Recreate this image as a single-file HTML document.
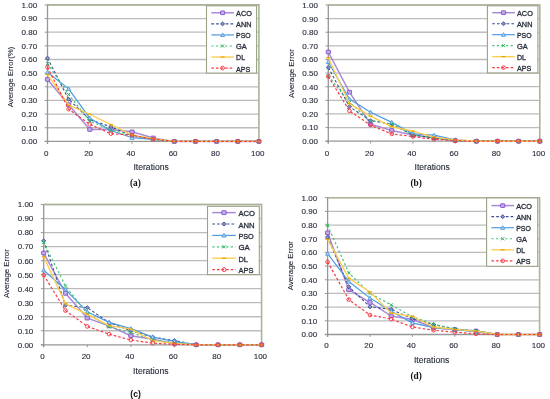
<!DOCTYPE html>
<html><head><meta charset="utf-8"><title>Average Error vs Iterations</title>
<style>
html,body{margin:0;padding:0;background:#fff;}
body{width:550px;height:399px;overflow:hidden;}
svg{display:block;}
.t{font-family:"Liberation Sans",sans-serif;font-size:8.0px;fill:#262c3a;}
.t,.it,.yl{stroke:#262c3a;stroke-width:0.12px;paint-order:stroke;}
.lg{stroke:#222a33;stroke-width:0.3px;paint-order:stroke;}
.it{font-family:"Liberation Sans",sans-serif;font-size:8.5px;fill:#262c3a;}
.lg{font-family:"Liberation Sans",sans-serif;font-size:7.65px;fill:#262c3a;}
.yl{font-family:"Liberation Sans",sans-serif;font-size:7.9px;fill:#262c3a;}
.cap{font-family:"Liberation Serif",serif;font-size:9.3px;font-weight:bold;fill:#111;}
.cap2{font-family:"Liberation Sans",sans-serif;font-size:8.6px;font-weight:bold;fill:#111;}
</style></head>
<body>
<svg width="550" height="399" viewBox="0 0 550 399">
<rect width="550" height="399" fill="#fff"/>
<path d="M47.5 127.75H258.9" stroke="#bcbcbc" stroke-width="1.3"/>
<path d="M47.5 114.1H258.9" stroke="#bcbcbc" stroke-width="1.3"/>
<path d="M47.5 100.45H258.9" stroke="#bcbcbc" stroke-width="1.3"/>
<path d="M47.5 86.8H258.9" stroke="#bcbcbc" stroke-width="1.3"/>
<path d="M47.5 73.15H258.9" stroke="#bcbcbc" stroke-width="1.3"/>
<path d="M47.5 59.5H258.9" stroke="#bcbcbc" stroke-width="1.3"/>
<path d="M47.5 45.85H258.9" stroke="#bcbcbc" stroke-width="1.3"/>
<path d="M47.5 32.2H258.9" stroke="#bcbcbc" stroke-width="1.3"/>
<path d="M47.5 18.55H258.9" stroke="#bcbcbc" stroke-width="1.3"/>
<path d="M47.5 4.9H258.9" stroke="#bcbcbc" stroke-width="1.3"/>
<path d="M47.5 4.9H258.9V141.4" stroke="#a9b499" stroke-width="1.6" fill="none"/>
<path d="M47.5 4.9V143.8" stroke="#969696" stroke-width="1.3"/>
<path d="M44.7 141.4H258.9" stroke="#969696" stroke-width="1.3"/>
<path d="M44.7 141.4H47.5" stroke="#969696" stroke-width="1"/>
<path d="M44.7 127.75H47.5" stroke="#969696" stroke-width="1"/>
<path d="M44.7 114.1H47.5" stroke="#969696" stroke-width="1"/>
<path d="M44.7 100.45H47.5" stroke="#969696" stroke-width="1"/>
<path d="M44.7 86.8H47.5" stroke="#969696" stroke-width="1"/>
<path d="M44.7 73.15H47.5" stroke="#969696" stroke-width="1"/>
<path d="M44.7 59.5H47.5" stroke="#969696" stroke-width="1"/>
<path d="M44.7 45.85H47.5" stroke="#969696" stroke-width="1"/>
<path d="M44.7 32.2H47.5" stroke="#969696" stroke-width="1"/>
<path d="M44.7 18.55H47.5" stroke="#969696" stroke-width="1"/>
<path d="M44.7 4.9H47.5" stroke="#969696" stroke-width="1"/>
<path d="M47.5 141.4V143.8" stroke="#969696" stroke-width="1"/>
<path d="M89.78 141.4V143.8" stroke="#969696" stroke-width="1"/>
<path d="M132.06 141.4V143.8" stroke="#969696" stroke-width="1"/>
<path d="M174.34 141.4V143.8" stroke="#969696" stroke-width="1"/>
<path d="M216.62 141.4V143.8" stroke="#969696" stroke-width="1"/>
<path d="M258.9 141.4V143.8" stroke="#969696" stroke-width="1"/>
<text x="37.1" y="144.3" text-anchor="end" class="t">0.00</text>
<text x="37.1" y="130.65" text-anchor="end" class="t">0.10</text>
<text x="37.1" y="117" text-anchor="end" class="t">0.20</text>
<text x="37.1" y="103.35" text-anchor="end" class="t">0.30</text>
<text x="37.1" y="89.7" text-anchor="end" class="t">0.40</text>
<text x="37.1" y="76.05" text-anchor="end" class="t">0.50</text>
<text x="37.1" y="62.4" text-anchor="end" class="t">0.60</text>
<text x="37.1" y="48.75" text-anchor="end" class="t">0.70</text>
<text x="37.1" y="35.1" text-anchor="end" class="t">0.80</text>
<text x="37.1" y="21.45" text-anchor="end" class="t">0.90</text>
<text x="37.1" y="7.8" text-anchor="end" class="t">1.00</text>
<text x="46.3" y="156.1" text-anchor="middle" class="t">0</text>
<text x="88.58" y="156.1" text-anchor="middle" class="t">20</text>
<text x="130.86" y="156.1" text-anchor="middle" class="t">40</text>
<text x="173.14" y="156.1" text-anchor="middle" class="t">60</text>
<text x="215.42" y="156.1" text-anchor="middle" class="t">80</text>
<text x="257.7" y="156.1" text-anchor="middle" class="t">100</text>
<text x="151.15" y="169.6" text-anchor="middle" textLength="35.4" lengthAdjust="spacingAndGlyphs" class="it">Iterations</text>
<text transform="translate(12.9 77) rotate(-90)" x="0" y="0" text-anchor="middle" textLength="60.6" lengthAdjust="spacingAndGlyphs" class="yl">Average Error(%)</text>
<text x="135.4" y="185.8" text-anchor="middle" class="cap">(a)</text>
<polyline points="47.5,79.43 68.64,104.68 89.78,129.52 110.92,129.39 132.06,131.84 153.2,137.99 174.34,141.4 195.48,141.4 216.62,141.4 237.76,141.4 258.9,141.4" stroke="#a98ad9" stroke-width="1.5" fill="none"/>
<rect x="45.4" y="77.58" width="4.2" height="3.7" rx="0.5" fill="#c4aaea" stroke="#8150c6" stroke-width="0.9"/>
<rect x="66.54" y="102.83" width="4.2" height="3.7" rx="0.5" fill="#c4aaea" stroke="#8150c6" stroke-width="0.9"/>
<rect x="87.68" y="127.67" width="4.2" height="3.7" rx="0.5" fill="#c4aaea" stroke="#8150c6" stroke-width="0.9"/>
<rect x="108.82" y="127.54" width="4.2" height="3.7" rx="0.5" fill="#c4aaea" stroke="#8150c6" stroke-width="0.9"/>
<rect x="129.96" y="130" width="4.2" height="3.7" rx="0.5" fill="#c4aaea" stroke="#8150c6" stroke-width="0.9"/>
<rect x="151.1" y="136.14" width="4.2" height="3.7" rx="0.5" fill="#c4aaea" stroke="#8150c6" stroke-width="0.9"/>
<rect x="172.24" y="139.55" width="4.2" height="3.7" rx="0.5" fill="#c4aaea" stroke="#8150c6" stroke-width="0.9"/>
<rect x="193.38" y="139.55" width="4.2" height="3.7" rx="0.5" fill="#c4aaea" stroke="#8150c6" stroke-width="0.9"/>
<rect x="214.52" y="139.55" width="4.2" height="3.7" rx="0.5" fill="#c4aaea" stroke="#8150c6" stroke-width="0.9"/>
<rect x="235.66" y="139.55" width="4.2" height="3.7" rx="0.5" fill="#c4aaea" stroke="#8150c6" stroke-width="0.9"/>
<rect x="256.8" y="139.55" width="4.2" height="3.7" rx="0.5" fill="#c4aaea" stroke="#8150c6" stroke-width="0.9"/>
<polyline points="47.5,58.14 68.64,99.22 89.78,119.56 110.92,126.79 132.06,135.94 153.2,139.35 174.34,141.4 195.48,141.4 216.62,141.4 237.76,141.4 258.9,141.4" stroke="#3d4d92" stroke-width="1.1" stroke-dasharray="2.7 2.1" fill="none"/>
<path d="M47.5 56.24L49.6 58.14L47.5 60.04L45.4 58.14Z" fill="#8a96c4" stroke="#3d4d92" stroke-width="0.9"/>
<path d="M68.64 97.32L70.74 99.22L68.64 101.12L66.54 99.22Z" fill="#8a96c4" stroke="#3d4d92" stroke-width="0.9"/>
<path d="M89.78 117.66L91.88 119.56L89.78 121.46L87.68 119.56Z" fill="#8a96c4" stroke="#3d4d92" stroke-width="0.9"/>
<path d="M110.92 124.89L113.02 126.79L110.92 128.69L108.82 126.79Z" fill="#8a96c4" stroke="#3d4d92" stroke-width="0.9"/>
<path d="M132.06 134.04L134.16 135.94L132.06 137.84L129.96 135.94Z" fill="#8a96c4" stroke="#3d4d92" stroke-width="0.9"/>
<path d="M153.2 137.45L155.3 139.35L153.2 141.25L151.1 139.35Z" fill="#8a96c4" stroke="#3d4d92" stroke-width="0.9"/>
<path d="M174.34 139.5L176.44 141.4L174.34 143.3L172.24 141.4Z" fill="#8a96c4" stroke="#3d4d92" stroke-width="0.9"/>
<path d="M195.48 139.5L197.58 141.4L195.48 143.3L193.38 141.4Z" fill="#8a96c4" stroke="#3d4d92" stroke-width="0.9"/>
<path d="M216.62 139.5L218.72 141.4L216.62 143.3L214.52 141.4Z" fill="#8a96c4" stroke="#3d4d92" stroke-width="0.9"/>
<path d="M237.76 139.5L239.86 141.4L237.76 143.3L235.66 141.4Z" fill="#8a96c4" stroke="#3d4d92" stroke-width="0.9"/>
<path d="M258.9 139.5L261 141.4L258.9 143.3L256.8 141.4Z" fill="#8a96c4" stroke="#3d4d92" stroke-width="0.9"/>
<polyline points="47.5,72.19 68.64,88.85 89.78,118.2 110.92,130.48 132.06,137.71 153.2,139.35 174.34,141.4 195.48,141.4 216.62,141.4 237.76,141.4 258.9,141.4" stroke="#4f9ae0" stroke-width="1.2" fill="none"/>
<path d="M47.5 70.19L49.5 73.79L45.5 73.79Z" fill="#b8d6f2" stroke="#4f9ae0" stroke-width="0.9"/>
<path d="M68.64 86.85L70.64 90.45L66.64 90.45Z" fill="#b8d6f2" stroke="#4f9ae0" stroke-width="0.9"/>
<path d="M89.78 116.2L91.78 119.8L87.78 119.8Z" fill="#b8d6f2" stroke="#4f9ae0" stroke-width="0.9"/>
<path d="M110.92 128.48L112.92 132.08L108.92 132.08Z" fill="#b8d6f2" stroke="#4f9ae0" stroke-width="0.9"/>
<path d="M132.06 135.71L134.06 139.31L130.06 139.31Z" fill="#b8d6f2" stroke="#4f9ae0" stroke-width="0.9"/>
<path d="M153.2 137.35L155.2 140.95L151.2 140.95Z" fill="#b8d6f2" stroke="#4f9ae0" stroke-width="0.9"/>
<path d="M174.34 139.4L176.34 143L172.34 143Z" fill="#b8d6f2" stroke="#4f9ae0" stroke-width="0.9"/>
<path d="M195.48 139.4L197.48 143L193.48 143Z" fill="#b8d6f2" stroke="#4f9ae0" stroke-width="0.9"/>
<path d="M216.62 139.4L218.62 143L214.62 143Z" fill="#b8d6f2" stroke="#4f9ae0" stroke-width="0.9"/>
<path d="M237.76 139.4L239.76 143L235.76 143Z" fill="#b8d6f2" stroke="#4f9ae0" stroke-width="0.9"/>
<path d="M258.9 139.4L260.9 143L256.9 143Z" fill="#b8d6f2" stroke="#4f9ae0" stroke-width="0.9"/>
<polyline points="47.5,63.6 68.64,94.44 89.78,120.93 110.92,130.07 132.06,135.12 153.2,139.35 174.34,141.4 195.48,141.4 216.62,141.4 237.76,141.4 258.9,141.4" stroke="#45c27a" stroke-width="1.2" stroke-dasharray="2.2 2.4" fill="none"/>
<path d="M45.9 62L49.1 65.2M45.9 65.2L49.1 62" stroke="#20b058" stroke-width="0.9" fill="none"/>
<path d="M67.04 92.84L70.24 96.04M67.04 96.04L70.24 92.84" stroke="#20b058" stroke-width="0.9" fill="none"/>
<path d="M88.18 119.33L91.38 122.53M88.18 122.53L91.38 119.33" stroke="#20b058" stroke-width="0.9" fill="none"/>
<path d="M109.32 128.47L112.52 131.67M109.32 131.67L112.52 128.47" stroke="#20b058" stroke-width="0.9" fill="none"/>
<path d="M130.46 133.52L133.66 136.72M130.46 136.72L133.66 133.52" stroke="#20b058" stroke-width="0.9" fill="none"/>
<path d="M151.6 137.75L154.8 140.95M151.6 140.95L154.8 137.75" stroke="#20b058" stroke-width="0.9" fill="none"/>
<path d="M172.74 139.8L175.94 143M172.74 143L175.94 139.8" stroke="#20b058" stroke-width="0.9" fill="none"/>
<path d="M193.88 139.8L197.08 143M193.88 143L197.08 139.8" stroke="#20b058" stroke-width="0.9" fill="none"/>
<path d="M215.02 139.8L218.22 143M215.02 143L218.22 139.8" stroke="#20b058" stroke-width="0.9" fill="none"/>
<path d="M236.16 139.8L239.36 143M236.16 143L239.36 139.8" stroke="#20b058" stroke-width="0.9" fill="none"/>
<path d="M257.3 139.8L260.5 143M257.3 143L260.5 139.8" stroke="#20b058" stroke-width="0.9" fill="none"/>
<polyline points="47.5,74.52 68.64,105.23 89.78,114.24 110.92,124.61 132.06,135.12 153.2,138.67 174.34,141.4 195.48,141.4 216.62,141.4 237.76,141.4 258.9,141.4" stroke="#fdcc4c" stroke-width="1.35" fill="none"/>
<path d="M45.5 74.52L49.5 74.52" stroke="#e8a800" stroke-width="1.2" fill="none"/>
<path d="M66.64 105.23L70.64 105.23" stroke="#e8a800" stroke-width="1.2" fill="none"/>
<path d="M87.78 114.24L91.78 114.24" stroke="#e8a800" stroke-width="1.2" fill="none"/>
<path d="M108.92 124.61L112.92 124.61" stroke="#e8a800" stroke-width="1.2" fill="none"/>
<path d="M130.06 135.12L134.06 135.12" stroke="#e8a800" stroke-width="1.2" fill="none"/>
<path d="M151.2 138.67L155.2 138.67" stroke="#e8a800" stroke-width="1.2" fill="none"/>
<path d="M172.34 141.4L176.34 141.4" stroke="#e8a800" stroke-width="1.2" fill="none"/>
<path d="M193.48 141.4L197.48 141.4" stroke="#e8a800" stroke-width="1.2" fill="none"/>
<path d="M214.62 141.4L218.62 141.4" stroke="#e8a800" stroke-width="1.2" fill="none"/>
<path d="M235.76 141.4L239.76 141.4" stroke="#e8a800" stroke-width="1.2" fill="none"/>
<path d="M256.9 141.4L260.9 141.4" stroke="#e8a800" stroke-width="1.2" fill="none"/>
<polyline points="47.5,67.14 68.64,109.19 89.78,124.34 110.92,133.62 132.06,135.12 153.2,139.35 174.34,141.4 195.48,141.4 216.62,141.4 237.76,141.4 258.9,141.4" stroke="#f73a44" stroke-width="1.2" stroke-dasharray="2.6 2.0" fill="none"/>
<circle cx="47.5" cy="67.14" r="1.85" fill="none" stroke="#f73a44" stroke-width="0.95"/>
<circle cx="68.64" cy="109.19" r="1.85" fill="none" stroke="#f73a44" stroke-width="0.95"/>
<circle cx="89.78" cy="124.34" r="1.85" fill="none" stroke="#f73a44" stroke-width="0.95"/>
<circle cx="110.92" cy="133.62" r="1.85" fill="none" stroke="#f73a44" stroke-width="0.95"/>
<circle cx="132.06" cy="135.12" r="1.85" fill="none" stroke="#f73a44" stroke-width="0.95"/>
<circle cx="153.2" cy="139.35" r="1.85" fill="none" stroke="#f73a44" stroke-width="0.95"/>
<circle cx="174.34" cy="141.4" r="1.85" fill="none" stroke="#f73a44" stroke-width="0.95"/>
<circle cx="195.48" cy="141.4" r="1.85" fill="none" stroke="#f73a44" stroke-width="0.95"/>
<circle cx="216.62" cy="141.4" r="1.85" fill="none" stroke="#f73a44" stroke-width="0.95"/>
<circle cx="237.76" cy="141.4" r="1.85" fill="none" stroke="#f73a44" stroke-width="0.95"/>
<circle cx="258.9" cy="141.4" r="1.85" fill="none" stroke="#f73a44" stroke-width="0.95"/>
<rect x="206.5" y="5.8" width="50.1" height="67.3" fill="#fff" stroke="#9aa386" stroke-width="1.1"/>
<path d="M211.3 12.8H233.9" stroke="#a98ad9" stroke-width="1.5" fill="none"/>
<rect x="220.5" y="10.95" width="4.2" height="3.7" rx="0.5" fill="#c4aaea" stroke="#8150c6" stroke-width="0.9"/>
<text x="236.1" y="16.25" textLength="15.8" lengthAdjust="spacingAndGlyphs" class="lg">ACO</text>
<path d="M211.3 23.86H233.9" stroke="#3d4d92" stroke-width="1.1" stroke-dasharray="2.7 2.1" fill="none"/>
<path d="M222.6 21.96L224.7 23.86L222.6 25.76L220.5 23.86Z" fill="#8a96c4" stroke="#3d4d92" stroke-width="0.9"/>
<text x="236.1" y="27.31" textLength="15.4" lengthAdjust="spacingAndGlyphs" class="lg">ANN</text>
<path d="M211.3 34.92H233.9" stroke="#4f9ae0" stroke-width="1.2" fill="none"/>
<path d="M222.6 32.92L224.6 36.52L220.6 36.52Z" fill="#b8d6f2" stroke="#4f9ae0" stroke-width="0.9"/>
<text x="236.1" y="38.37" textLength="14.6" lengthAdjust="spacingAndGlyphs" class="lg">PSO</text>
<path d="M211.3 45.98H233.9" stroke="#45c27a" stroke-width="1.2" stroke-dasharray="2.2 2.4" fill="none"/>
<path d="M221 44.38L224.2 47.58M221 47.58L224.2 44.38" stroke="#20b058" stroke-width="0.9" fill="none"/>
<text x="236.1" y="49.43" textLength="10.7" lengthAdjust="spacingAndGlyphs" class="lg">GA</text>
<path d="M211.3 57.04H233.9" stroke="#fdcc4c" stroke-width="1.35" fill="none"/>
<path d="M220.6 57.04L224.6 57.04" stroke="#e8a800" stroke-width="1.2" fill="none"/>
<text x="236.1" y="60.49" textLength="9" lengthAdjust="spacingAndGlyphs" class="lg">DL</text>
<path d="M211.3 68.1H233.9" stroke="#f73a44" stroke-width="1.2" stroke-dasharray="2.6 2.0" fill="none"/>
<circle cx="222.6" cy="68.1" r="1.85" fill="none" stroke="#f73a44" stroke-width="0.95"/>
<text x="236.1" y="71.55" textLength="14.3" lengthAdjust="spacingAndGlyphs" class="lg">APS</text>
<path d="M328.3 127.58H539.8" stroke="#bcbcbc" stroke-width="1.3"/>
<path d="M328.3 113.96H539.8" stroke="#bcbcbc" stroke-width="1.3"/>
<path d="M328.3 100.34H539.8" stroke="#bcbcbc" stroke-width="1.3"/>
<path d="M328.3 86.72H539.8" stroke="#bcbcbc" stroke-width="1.3"/>
<path d="M328.3 73.1H539.8" stroke="#bcbcbc" stroke-width="1.3"/>
<path d="M328.3 59.48H539.8" stroke="#bcbcbc" stroke-width="1.3"/>
<path d="M328.3 45.86H539.8" stroke="#bcbcbc" stroke-width="1.3"/>
<path d="M328.3 32.24H539.8" stroke="#bcbcbc" stroke-width="1.3"/>
<path d="M328.3 18.62H539.8" stroke="#bcbcbc" stroke-width="1.3"/>
<path d="M328.3 5H539.8" stroke="#bcbcbc" stroke-width="1.3"/>
<path d="M328.3 5H539.8V141.2" stroke="#a9b499" stroke-width="1.6" fill="none"/>
<path d="M328.3 5V143.6" stroke="#969696" stroke-width="1.3"/>
<path d="M325.5 141.2H539.8" stroke="#969696" stroke-width="1.3"/>
<path d="M325.5 141.2H328.3" stroke="#969696" stroke-width="1"/>
<path d="M325.5 127.58H328.3" stroke="#969696" stroke-width="1"/>
<path d="M325.5 113.96H328.3" stroke="#969696" stroke-width="1"/>
<path d="M325.5 100.34H328.3" stroke="#969696" stroke-width="1"/>
<path d="M325.5 86.72H328.3" stroke="#969696" stroke-width="1"/>
<path d="M325.5 73.1H328.3" stroke="#969696" stroke-width="1"/>
<path d="M325.5 59.48H328.3" stroke="#969696" stroke-width="1"/>
<path d="M325.5 45.86H328.3" stroke="#969696" stroke-width="1"/>
<path d="M325.5 32.24H328.3" stroke="#969696" stroke-width="1"/>
<path d="M325.5 18.62H328.3" stroke="#969696" stroke-width="1"/>
<path d="M325.5 5H328.3" stroke="#969696" stroke-width="1"/>
<path d="M328.3 141.2V143.6" stroke="#969696" stroke-width="1"/>
<path d="M370.6 141.2V143.6" stroke="#969696" stroke-width="1"/>
<path d="M412.9 141.2V143.6" stroke="#969696" stroke-width="1"/>
<path d="M455.2 141.2V143.6" stroke="#969696" stroke-width="1"/>
<path d="M497.5 141.2V143.6" stroke="#969696" stroke-width="1"/>
<path d="M539.8 141.2V143.6" stroke="#969696" stroke-width="1"/>
<text x="317.9" y="144.1" text-anchor="end" class="t">0.00</text>
<text x="317.9" y="130.48" text-anchor="end" class="t">0.10</text>
<text x="317.9" y="116.86" text-anchor="end" class="t">0.20</text>
<text x="317.9" y="103.24" text-anchor="end" class="t">0.30</text>
<text x="317.9" y="89.62" text-anchor="end" class="t">0.40</text>
<text x="317.9" y="76" text-anchor="end" class="t">0.50</text>
<text x="317.9" y="62.38" text-anchor="end" class="t">0.60</text>
<text x="317.9" y="48.76" text-anchor="end" class="t">0.70</text>
<text x="317.9" y="35.14" text-anchor="end" class="t">0.80</text>
<text x="317.9" y="21.52" text-anchor="end" class="t">0.90</text>
<text x="317.9" y="7.9" text-anchor="end" class="t">1.00</text>
<text x="327.1" y="156" text-anchor="middle" class="t">0</text>
<text x="369.4" y="156" text-anchor="middle" class="t">20</text>
<text x="411.7" y="156" text-anchor="middle" class="t">40</text>
<text x="454" y="156" text-anchor="middle" class="t">60</text>
<text x="496.3" y="156" text-anchor="middle" class="t">80</text>
<text x="538.6" y="156" text-anchor="middle" class="t">100</text>
<text x="432.2" y="169.8" text-anchor="middle" textLength="35.4" lengthAdjust="spacingAndGlyphs" class="it">Iterations</text>
<text transform="translate(293.9 73.6) rotate(-90)" x="0" y="0" text-anchor="middle" textLength="49" lengthAdjust="spacingAndGlyphs" class="yl">Average Error</text>
<text x="416.2" y="185.8" text-anchor="middle" class="cap">(b)</text>
<polyline points="328.3,51.99 349.45,92.17 370.6,124.17 391.75,130.44 412.9,135.07 434.05,137.79 455.2,140.52 476.35,141.2 497.5,141.2 518.65,141.2 539.8,141.2" stroke="#a98ad9" stroke-width="1.5" fill="none"/>
<rect x="326.2" y="50.14" width="4.2" height="3.7" rx="0.5" fill="#c4aaea" stroke="#8150c6" stroke-width="0.9"/>
<rect x="347.35" y="90.32" width="4.2" height="3.7" rx="0.5" fill="#c4aaea" stroke="#8150c6" stroke-width="0.9"/>
<rect x="368.5" y="122.32" width="4.2" height="3.7" rx="0.5" fill="#c4aaea" stroke="#8150c6" stroke-width="0.9"/>
<rect x="389.65" y="128.59" width="4.2" height="3.7" rx="0.5" fill="#c4aaea" stroke="#8150c6" stroke-width="0.9"/>
<rect x="410.8" y="133.22" width="4.2" height="3.7" rx="0.5" fill="#c4aaea" stroke="#8150c6" stroke-width="0.9"/>
<rect x="431.95" y="135.94" width="4.2" height="3.7" rx="0.5" fill="#c4aaea" stroke="#8150c6" stroke-width="0.9"/>
<rect x="453.1" y="138.67" width="4.2" height="3.7" rx="0.5" fill="#c4aaea" stroke="#8150c6" stroke-width="0.9"/>
<rect x="474.25" y="139.35" width="4.2" height="3.7" rx="0.5" fill="#c4aaea" stroke="#8150c6" stroke-width="0.9"/>
<rect x="495.4" y="139.35" width="4.2" height="3.7" rx="0.5" fill="#c4aaea" stroke="#8150c6" stroke-width="0.9"/>
<rect x="516.55" y="139.35" width="4.2" height="3.7" rx="0.5" fill="#c4aaea" stroke="#8150c6" stroke-width="0.9"/>
<rect x="537.7" y="139.35" width="4.2" height="3.7" rx="0.5" fill="#c4aaea" stroke="#8150c6" stroke-width="0.9"/>
<polyline points="328.3,67.52 349.45,106.74 370.6,120.63 391.75,124.04 412.9,135.07 434.05,137.79 455.2,140.52 476.35,141.2 497.5,141.2 518.65,141.2 539.8,141.2" stroke="#3d4d92" stroke-width="1.1" stroke-dasharray="2.7 2.1" fill="none"/>
<path d="M328.3 65.62L330.4 67.52L328.3 69.42L326.2 67.52Z" fill="#8a96c4" stroke="#3d4d92" stroke-width="0.9"/>
<path d="M349.45 104.84L351.55 106.74L349.45 108.64L347.35 106.74Z" fill="#8a96c4" stroke="#3d4d92" stroke-width="0.9"/>
<path d="M370.6 118.73L372.7 120.63L370.6 122.53L368.5 120.63Z" fill="#8a96c4" stroke="#3d4d92" stroke-width="0.9"/>
<path d="M391.75 122.14L393.85 124.04L391.75 125.94L389.65 124.04Z" fill="#8a96c4" stroke="#3d4d92" stroke-width="0.9"/>
<path d="M412.9 133.17L415 135.07L412.9 136.97L410.8 135.07Z" fill="#8a96c4" stroke="#3d4d92" stroke-width="0.9"/>
<path d="M434.05 135.89L436.15 137.79L434.05 139.69L431.95 137.79Z" fill="#8a96c4" stroke="#3d4d92" stroke-width="0.9"/>
<path d="M455.2 138.62L457.3 140.52L455.2 142.42L453.1 140.52Z" fill="#8a96c4" stroke="#3d4d92" stroke-width="0.9"/>
<path d="M476.35 139.3L478.45 141.2L476.35 143.1L474.25 141.2Z" fill="#8a96c4" stroke="#3d4d92" stroke-width="0.9"/>
<path d="M497.5 139.3L499.6 141.2L497.5 143.1L495.4 141.2Z" fill="#8a96c4" stroke="#3d4d92" stroke-width="0.9"/>
<path d="M518.65 139.3L520.75 141.2L518.65 143.1L516.55 141.2Z" fill="#8a96c4" stroke="#3d4d92" stroke-width="0.9"/>
<path d="M539.8 139.3L541.9 141.2L539.8 143.1L537.7 141.2Z" fill="#8a96c4" stroke="#3d4d92" stroke-width="0.9"/>
<polyline points="328.3,61.93 349.45,99.11 370.6,112.33 391.75,122.4 412.9,133.85 434.05,135.21 455.2,139.84 476.35,141.2 497.5,141.2 518.65,141.2 539.8,141.2" stroke="#4f9ae0" stroke-width="1.2" fill="none"/>
<path d="M328.3 59.93L330.3 63.53L326.3 63.53Z" fill="#b8d6f2" stroke="#4f9ae0" stroke-width="0.9"/>
<path d="M349.45 97.11L351.45 100.71L347.45 100.71Z" fill="#b8d6f2" stroke="#4f9ae0" stroke-width="0.9"/>
<path d="M370.6 110.33L372.6 113.93L368.6 113.93Z" fill="#b8d6f2" stroke="#4f9ae0" stroke-width="0.9"/>
<path d="M391.75 120.4L393.75 124L389.75 124Z" fill="#b8d6f2" stroke="#4f9ae0" stroke-width="0.9"/>
<path d="M412.9 131.85L414.9 135.45L410.9 135.45Z" fill="#b8d6f2" stroke="#4f9ae0" stroke-width="0.9"/>
<path d="M434.05 133.21L436.05 136.81L432.05 136.81Z" fill="#b8d6f2" stroke="#4f9ae0" stroke-width="0.9"/>
<path d="M455.2 137.84L457.2 141.44L453.2 141.44Z" fill="#b8d6f2" stroke="#4f9ae0" stroke-width="0.9"/>
<path d="M476.35 139.2L478.35 142.8L474.35 142.8Z" fill="#b8d6f2" stroke="#4f9ae0" stroke-width="0.9"/>
<path d="M497.5 139.2L499.5 142.8L495.5 142.8Z" fill="#b8d6f2" stroke="#4f9ae0" stroke-width="0.9"/>
<path d="M518.65 139.2L520.65 142.8L516.65 142.8Z" fill="#b8d6f2" stroke="#4f9ae0" stroke-width="0.9"/>
<path d="M539.8 139.2L541.8 142.8L537.8 142.8Z" fill="#b8d6f2" stroke="#4f9ae0" stroke-width="0.9"/>
<polyline points="328.3,75.82 349.45,102.52 370.6,120.63 391.75,124.04 412.9,135.07 434.05,137.79 455.2,140.52 476.35,141.2 497.5,141.2 518.65,141.2 539.8,141.2" stroke="#45c27a" stroke-width="1.2" stroke-dasharray="2.2 2.4" fill="none"/>
<path d="M326.7 74.22L329.9 77.42M326.7 77.42L329.9 74.22" stroke="#20b058" stroke-width="0.9" fill="none"/>
<path d="M347.85 100.92L351.05 104.12M347.85 104.12L351.05 100.92" stroke="#20b058" stroke-width="0.9" fill="none"/>
<path d="M369 119.03L372.2 122.23M369 122.23L372.2 119.03" stroke="#20b058" stroke-width="0.9" fill="none"/>
<path d="M390.15 122.44L393.35 125.64M390.15 125.64L393.35 122.44" stroke="#20b058" stroke-width="0.9" fill="none"/>
<path d="M411.3 133.47L414.5 136.67M411.3 136.67L414.5 133.47" stroke="#20b058" stroke-width="0.9" fill="none"/>
<path d="M432.45 136.19L435.65 139.39M432.45 139.39L435.65 136.19" stroke="#20b058" stroke-width="0.9" fill="none"/>
<path d="M453.6 138.92L456.8 142.12M453.6 142.12L456.8 138.92" stroke="#20b058" stroke-width="0.9" fill="none"/>
<path d="M474.75 139.6L477.95 142.8M474.75 142.8L477.95 139.6" stroke="#20b058" stroke-width="0.9" fill="none"/>
<path d="M495.9 139.6L499.1 142.8M495.9 142.8L499.1 139.6" stroke="#20b058" stroke-width="0.9" fill="none"/>
<path d="M517.05 139.6L520.25 142.8M517.05 142.8L520.25 139.6" stroke="#20b058" stroke-width="0.9" fill="none"/>
<path d="M538.2 139.6L541.4 142.8M538.2 142.8L541.4 139.6" stroke="#20b058" stroke-width="0.9" fill="none"/>
<polyline points="328.3,57.71 349.45,103.74 370.6,116.14 391.75,126.76 412.9,131.12 434.05,137.11 455.2,139.84 476.35,141.2 497.5,141.2 518.65,141.2 539.8,141.2" stroke="#fdcc4c" stroke-width="1.35" fill="none"/>
<path d="M326.3 57.71L330.3 57.71" stroke="#e8a800" stroke-width="1.2" fill="none"/>
<path d="M347.45 103.74L351.45 103.74" stroke="#e8a800" stroke-width="1.2" fill="none"/>
<path d="M368.6 116.14L372.6 116.14" stroke="#e8a800" stroke-width="1.2" fill="none"/>
<path d="M389.75 126.76L393.75 126.76" stroke="#e8a800" stroke-width="1.2" fill="none"/>
<path d="M410.9 131.12L414.9 131.12" stroke="#e8a800" stroke-width="1.2" fill="none"/>
<path d="M432.05 137.11L436.05 137.11" stroke="#e8a800" stroke-width="1.2" fill="none"/>
<path d="M453.2 139.84L457.2 139.84" stroke="#e8a800" stroke-width="1.2" fill="none"/>
<path d="M474.35 141.2L478.35 141.2" stroke="#e8a800" stroke-width="1.2" fill="none"/>
<path d="M495.5 141.2L499.5 141.2" stroke="#e8a800" stroke-width="1.2" fill="none"/>
<path d="M516.65 141.2L520.65 141.2" stroke="#e8a800" stroke-width="1.2" fill="none"/>
<path d="M537.8 141.2L541.8 141.2" stroke="#e8a800" stroke-width="1.2" fill="none"/>
<polyline points="328.3,76.5 349.45,110.83 370.6,125.13 391.75,133.85 412.9,136.57 434.05,139.29 455.2,140.79 476.35,141.2 497.5,141.2 518.65,141.2 539.8,141.2" stroke="#f73a44" stroke-width="1.2" stroke-dasharray="2.6 2.0" fill="none"/>
<circle cx="328.3" cy="76.5" r="1.85" fill="none" stroke="#f73a44" stroke-width="0.95"/>
<circle cx="349.45" cy="110.83" r="1.85" fill="none" stroke="#f73a44" stroke-width="0.95"/>
<circle cx="370.6" cy="125.13" r="1.85" fill="none" stroke="#f73a44" stroke-width="0.95"/>
<circle cx="391.75" cy="133.85" r="1.85" fill="none" stroke="#f73a44" stroke-width="0.95"/>
<circle cx="412.9" cy="136.57" r="1.85" fill="none" stroke="#f73a44" stroke-width="0.95"/>
<circle cx="434.05" cy="139.29" r="1.85" fill="none" stroke="#f73a44" stroke-width="0.95"/>
<circle cx="455.2" cy="140.79" r="1.85" fill="none" stroke="#f73a44" stroke-width="0.95"/>
<circle cx="476.35" cy="141.2" r="1.85" fill="none" stroke="#f73a44" stroke-width="0.95"/>
<circle cx="497.5" cy="141.2" r="1.85" fill="none" stroke="#f73a44" stroke-width="0.95"/>
<circle cx="518.65" cy="141.2" r="1.85" fill="none" stroke="#f73a44" stroke-width="0.95"/>
<circle cx="539.8" cy="141.2" r="1.85" fill="none" stroke="#f73a44" stroke-width="0.95"/>
<rect x="487.4" y="5.8" width="50.5" height="67.1" fill="#fff" stroke="#9aa386" stroke-width="1.1"/>
<path d="M492.2 12.7H514.8" stroke="#a98ad9" stroke-width="1.5" fill="none"/>
<rect x="501.4" y="10.85" width="4.2" height="3.7" rx="0.5" fill="#c4aaea" stroke="#8150c6" stroke-width="0.9"/>
<text x="517" y="16.15" textLength="15.8" lengthAdjust="spacingAndGlyphs" class="lg">ACO</text>
<path d="M492.2 23.68H514.8" stroke="#3d4d92" stroke-width="1.1" stroke-dasharray="2.7 2.1" fill="none"/>
<path d="M503.5 21.78L505.6 23.68L503.5 25.58L501.4 23.68Z" fill="#8a96c4" stroke="#3d4d92" stroke-width="0.9"/>
<text x="517" y="27.13" textLength="15.4" lengthAdjust="spacingAndGlyphs" class="lg">ANN</text>
<path d="M492.2 34.66H514.8" stroke="#4f9ae0" stroke-width="1.2" fill="none"/>
<path d="M503.5 32.66L505.5 36.26L501.5 36.26Z" fill="#b8d6f2" stroke="#4f9ae0" stroke-width="0.9"/>
<text x="517" y="38.11" textLength="14.6" lengthAdjust="spacingAndGlyphs" class="lg">PSO</text>
<path d="M492.2 45.64H514.8" stroke="#45c27a" stroke-width="1.2" stroke-dasharray="2.2 2.4" fill="none"/>
<path d="M501.9 44.04L505.1 47.24M501.9 47.24L505.1 44.04" stroke="#20b058" stroke-width="0.9" fill="none"/>
<text x="517" y="49.09" textLength="10.7" lengthAdjust="spacingAndGlyphs" class="lg">GA</text>
<path d="M492.2 56.62H514.8" stroke="#fdcc4c" stroke-width="1.35" fill="none"/>
<path d="M501.5 56.62L505.5 56.62" stroke="#e8a800" stroke-width="1.2" fill="none"/>
<text x="517" y="60.07" textLength="9" lengthAdjust="spacingAndGlyphs" class="lg">DL</text>
<path d="M492.2 67.6H514.8" stroke="#f73a44" stroke-width="1.2" stroke-dasharray="2.6 2.0" fill="none"/>
<circle cx="503.5" cy="67.6" r="1.85" fill="none" stroke="#f73a44" stroke-width="0.95"/>
<text x="517" y="71.05" textLength="14.3" lengthAdjust="spacingAndGlyphs" class="lg">APS</text>
<path d="M43.7 330.77H261.6" stroke="#bcbcbc" stroke-width="1.3"/>
<path d="M43.7 316.74H261.6" stroke="#bcbcbc" stroke-width="1.3"/>
<path d="M43.7 302.71H261.6" stroke="#bcbcbc" stroke-width="1.3"/>
<path d="M43.7 288.68H261.6" stroke="#bcbcbc" stroke-width="1.3"/>
<path d="M43.7 274.65H261.6" stroke="#bcbcbc" stroke-width="1.3"/>
<path d="M43.7 260.62H261.6" stroke="#bcbcbc" stroke-width="1.3"/>
<path d="M43.7 246.59H261.6" stroke="#bcbcbc" stroke-width="1.3"/>
<path d="M43.7 232.56H261.6" stroke="#bcbcbc" stroke-width="1.3"/>
<path d="M43.7 218.53H261.6" stroke="#bcbcbc" stroke-width="1.3"/>
<path d="M43.7 204.5H261.6" stroke="#bcbcbc" stroke-width="1.3"/>
<path d="M43.7 204.5H261.6V344.8" stroke="#a9b499" stroke-width="1.6" fill="none"/>
<path d="M43.7 204.5V347.2" stroke="#969696" stroke-width="1.3"/>
<path d="M40.9 344.8H261.6" stroke="#969696" stroke-width="1.3"/>
<path d="M40.9 344.8H43.7" stroke="#969696" stroke-width="1"/>
<path d="M40.9 330.77H43.7" stroke="#969696" stroke-width="1"/>
<path d="M40.9 316.74H43.7" stroke="#969696" stroke-width="1"/>
<path d="M40.9 302.71H43.7" stroke="#969696" stroke-width="1"/>
<path d="M40.9 288.68H43.7" stroke="#969696" stroke-width="1"/>
<path d="M40.9 274.65H43.7" stroke="#969696" stroke-width="1"/>
<path d="M40.9 260.62H43.7" stroke="#969696" stroke-width="1"/>
<path d="M40.9 246.59H43.7" stroke="#969696" stroke-width="1"/>
<path d="M40.9 232.56H43.7" stroke="#969696" stroke-width="1"/>
<path d="M40.9 218.53H43.7" stroke="#969696" stroke-width="1"/>
<path d="M40.9 204.5H43.7" stroke="#969696" stroke-width="1"/>
<path d="M43.7 344.8V347.2" stroke="#969696" stroke-width="1"/>
<path d="M87.28 344.8V347.2" stroke="#969696" stroke-width="1"/>
<path d="M130.86 344.8V347.2" stroke="#969696" stroke-width="1"/>
<path d="M174.44 344.8V347.2" stroke="#969696" stroke-width="1"/>
<path d="M218.02 344.8V347.2" stroke="#969696" stroke-width="1"/>
<path d="M261.6 344.8V347.2" stroke="#969696" stroke-width="1"/>
<text x="33.3" y="347.7" text-anchor="end" class="t">0.00</text>
<text x="33.3" y="333.67" text-anchor="end" class="t">0.10</text>
<text x="33.3" y="319.64" text-anchor="end" class="t">0.20</text>
<text x="33.3" y="305.61" text-anchor="end" class="t">0.30</text>
<text x="33.3" y="291.58" text-anchor="end" class="t">0.40</text>
<text x="33.3" y="277.55" text-anchor="end" class="t">0.50</text>
<text x="33.3" y="263.52" text-anchor="end" class="t">0.60</text>
<text x="33.3" y="249.49" text-anchor="end" class="t">0.70</text>
<text x="33.3" y="235.46" text-anchor="end" class="t">0.80</text>
<text x="33.3" y="221.43" text-anchor="end" class="t">0.90</text>
<text x="33.3" y="207.4" text-anchor="end" class="t">1.00</text>
<text x="42.5" y="359.2" text-anchor="middle" class="t">0</text>
<text x="86.08" y="359.2" text-anchor="middle" class="t">20</text>
<text x="129.66" y="359.2" text-anchor="middle" class="t">40</text>
<text x="173.24" y="359.2" text-anchor="middle" class="t">60</text>
<text x="216.82" y="359.2" text-anchor="middle" class="t">80</text>
<text x="260.4" y="359.2" text-anchor="middle" class="t">100</text>
<text x="150.8" y="374.2" text-anchor="middle" textLength="35.4" lengthAdjust="spacingAndGlyphs" class="it">Iterations</text>
<text transform="translate(8.9 273.6) rotate(-90)" x="0" y="0" text-anchor="middle" textLength="49" lengthAdjust="spacingAndGlyphs" class="yl">Average Error</text>
<text x="135.6" y="396.5" text-anchor="middle" class="cap2">(c)</text>
<polyline points="43.7,253.04 65.49,293.31 87.28,318.14 109.07,325.86 130.86,335.68 152.65,339.19 174.44,343.4 196.23,344.8 218.02,344.8 239.81,344.8 261.6,344.8" stroke="#a98ad9" stroke-width="1.5" fill="none"/>
<rect x="41.6" y="251.19" width="4.2" height="3.7" rx="0.5" fill="#c4aaea" stroke="#8150c6" stroke-width="0.9"/>
<rect x="63.39" y="291.46" width="4.2" height="3.7" rx="0.5" fill="#c4aaea" stroke="#8150c6" stroke-width="0.9"/>
<rect x="85.18" y="316.29" width="4.2" height="3.7" rx="0.5" fill="#c4aaea" stroke="#8150c6" stroke-width="0.9"/>
<rect x="106.97" y="324.01" width="4.2" height="3.7" rx="0.5" fill="#c4aaea" stroke="#8150c6" stroke-width="0.9"/>
<rect x="128.76" y="333.83" width="4.2" height="3.7" rx="0.5" fill="#c4aaea" stroke="#8150c6" stroke-width="0.9"/>
<rect x="150.55" y="337.34" width="4.2" height="3.7" rx="0.5" fill="#c4aaea" stroke="#8150c6" stroke-width="0.9"/>
<rect x="172.34" y="341.55" width="4.2" height="3.7" rx="0.5" fill="#c4aaea" stroke="#8150c6" stroke-width="0.9"/>
<rect x="194.13" y="342.95" width="4.2" height="3.7" rx="0.5" fill="#c4aaea" stroke="#8150c6" stroke-width="0.9"/>
<rect x="215.92" y="342.95" width="4.2" height="3.7" rx="0.5" fill="#c4aaea" stroke="#8150c6" stroke-width="0.9"/>
<rect x="237.71" y="342.95" width="4.2" height="3.7" rx="0.5" fill="#c4aaea" stroke="#8150c6" stroke-width="0.9"/>
<rect x="259.5" y="342.95" width="4.2" height="3.7" rx="0.5" fill="#c4aaea" stroke="#8150c6" stroke-width="0.9"/>
<polyline points="43.7,240.84 65.49,305.24 87.28,307.62 109.07,322.63 130.86,330.77 152.65,337.08 174.44,340.59 196.23,344.8 218.02,344.8 239.81,344.8 261.6,344.8" stroke="#3d4d92" stroke-width="1.1" stroke-dasharray="2.7 2.1" fill="none"/>
<path d="M43.7 238.94L45.8 240.84L43.7 242.74L41.6 240.84Z" fill="#8a96c4" stroke="#3d4d92" stroke-width="0.9"/>
<path d="M65.49 303.34L67.59 305.24L65.49 307.14L63.39 305.24Z" fill="#8a96c4" stroke="#3d4d92" stroke-width="0.9"/>
<path d="M87.28 305.72L89.38 307.62L87.28 309.52L85.18 307.62Z" fill="#8a96c4" stroke="#3d4d92" stroke-width="0.9"/>
<path d="M109.07 320.73L111.17 322.63L109.07 324.53L106.97 322.63Z" fill="#8a96c4" stroke="#3d4d92" stroke-width="0.9"/>
<path d="M130.86 328.87L132.96 330.77L130.86 332.67L128.76 330.77Z" fill="#8a96c4" stroke="#3d4d92" stroke-width="0.9"/>
<path d="M152.65 335.18L154.75 337.08L152.65 338.98L150.55 337.08Z" fill="#8a96c4" stroke="#3d4d92" stroke-width="0.9"/>
<path d="M174.44 338.69L176.54 340.59L174.44 342.49L172.34 340.59Z" fill="#8a96c4" stroke="#3d4d92" stroke-width="0.9"/>
<path d="M196.23 342.9L198.33 344.8L196.23 346.7L194.13 344.8Z" fill="#8a96c4" stroke="#3d4d92" stroke-width="0.9"/>
<path d="M218.02 342.9L220.12 344.8L218.02 346.7L215.92 344.8Z" fill="#8a96c4" stroke="#3d4d92" stroke-width="0.9"/>
<path d="M239.81 342.9L241.91 344.8L239.81 346.7L237.71 344.8Z" fill="#8a96c4" stroke="#3d4d92" stroke-width="0.9"/>
<path d="M261.6 342.9L263.7 344.8L261.6 346.7L259.5 344.8Z" fill="#8a96c4" stroke="#3d4d92" stroke-width="0.9"/>
<polyline points="43.7,270.3 65.49,289.52 87.28,311.83 109.07,322.35 130.86,328.67 152.65,337.08 174.44,341.29 196.23,344.8 218.02,344.8 239.81,344.8 261.6,344.8" stroke="#4f9ae0" stroke-width="1.2" fill="none"/>
<path d="M43.7 268.3L45.7 271.9L41.7 271.9Z" fill="#b8d6f2" stroke="#4f9ae0" stroke-width="0.9"/>
<path d="M65.49 287.52L67.49 291.12L63.49 291.12Z" fill="#b8d6f2" stroke="#4f9ae0" stroke-width="0.9"/>
<path d="M87.28 309.83L89.28 313.43L85.28 313.43Z" fill="#b8d6f2" stroke="#4f9ae0" stroke-width="0.9"/>
<path d="M109.07 320.35L111.07 323.95L107.07 323.95Z" fill="#b8d6f2" stroke="#4f9ae0" stroke-width="0.9"/>
<path d="M130.86 326.67L132.86 330.27L128.86 330.27Z" fill="#b8d6f2" stroke="#4f9ae0" stroke-width="0.9"/>
<path d="M152.65 335.08L154.65 338.68L150.65 338.68Z" fill="#b8d6f2" stroke="#4f9ae0" stroke-width="0.9"/>
<path d="M174.44 339.29L176.44 342.89L172.44 342.89Z" fill="#b8d6f2" stroke="#4f9ae0" stroke-width="0.9"/>
<path d="M196.23 342.8L198.23 346.4L194.23 346.4Z" fill="#b8d6f2" stroke="#4f9ae0" stroke-width="0.9"/>
<path d="M218.02 342.8L220.02 346.4L216.02 346.4Z" fill="#b8d6f2" stroke="#4f9ae0" stroke-width="0.9"/>
<path d="M239.81 342.8L241.81 346.4L237.81 346.4Z" fill="#b8d6f2" stroke="#4f9ae0" stroke-width="0.9"/>
<path d="M261.6 342.8L263.6 346.4L259.6 346.4Z" fill="#b8d6f2" stroke="#4f9ae0" stroke-width="0.9"/>
<polyline points="43.7,242.38 65.49,285.87 87.28,313.93 109.07,326.84 130.86,332.59 152.65,339.89 174.44,342.7 196.23,344.8 218.02,344.8 239.81,344.8 261.6,344.8" stroke="#45c27a" stroke-width="1.2" stroke-dasharray="2.2 2.4" fill="none"/>
<path d="M42.1 240.78L45.3 243.98M42.1 243.98L45.3 240.78" stroke="#20b058" stroke-width="0.9" fill="none"/>
<path d="M63.89 284.27L67.09 287.47M63.89 287.47L67.09 284.27" stroke="#20b058" stroke-width="0.9" fill="none"/>
<path d="M85.68 312.33L88.88 315.53M85.68 315.53L88.88 312.33" stroke="#20b058" stroke-width="0.9" fill="none"/>
<path d="M107.47 325.24L110.67 328.44M107.47 328.44L110.67 325.24" stroke="#20b058" stroke-width="0.9" fill="none"/>
<path d="M129.26 330.99L132.46 334.19M129.26 334.19L132.46 330.99" stroke="#20b058" stroke-width="0.9" fill="none"/>
<path d="M151.05 338.29L154.25 341.49M151.05 341.49L154.25 338.29" stroke="#20b058" stroke-width="0.9" fill="none"/>
<path d="M172.84 341.1L176.04 344.3M172.84 344.3L176.04 341.1" stroke="#20b058" stroke-width="0.9" fill="none"/>
<path d="M194.63 343.2L197.83 346.4M194.63 346.4L197.83 343.2" stroke="#20b058" stroke-width="0.9" fill="none"/>
<path d="M216.42 343.2L219.62 346.4M216.42 346.4L219.62 343.2" stroke="#20b058" stroke-width="0.9" fill="none"/>
<path d="M238.21 343.2L241.41 346.4M238.21 346.4L241.41 343.2" stroke="#20b058" stroke-width="0.9" fill="none"/>
<path d="M260 343.2L263.2 346.4M260 346.4L263.2 343.2" stroke="#20b058" stroke-width="0.9" fill="none"/>
<polyline points="43.7,256.83 65.49,303.83 87.28,314.35 109.07,325.72 130.86,329.09 152.65,340.59 174.44,343.4 196.23,344.8 218.02,344.8 239.81,344.8 261.6,344.8" stroke="#fdcc4c" stroke-width="1.35" fill="none"/>
<path d="M41.7 256.83L45.7 256.83" stroke="#e8a800" stroke-width="1.2" fill="none"/>
<path d="M63.49 303.83L67.49 303.83" stroke="#e8a800" stroke-width="1.2" fill="none"/>
<path d="M85.28 314.35L89.28 314.35" stroke="#e8a800" stroke-width="1.2" fill="none"/>
<path d="M107.07 325.72L111.07 325.72" stroke="#e8a800" stroke-width="1.2" fill="none"/>
<path d="M128.86 329.09L132.86 329.09" stroke="#e8a800" stroke-width="1.2" fill="none"/>
<path d="M150.65 340.59L154.65 340.59" stroke="#e8a800" stroke-width="1.2" fill="none"/>
<path d="M172.44 343.4L176.44 343.4" stroke="#e8a800" stroke-width="1.2" fill="none"/>
<path d="M194.23 344.8L198.23 344.8" stroke="#e8a800" stroke-width="1.2" fill="none"/>
<path d="M216.02 344.8L220.02 344.8" stroke="#e8a800" stroke-width="1.2" fill="none"/>
<path d="M237.81 344.8L241.81 344.8" stroke="#e8a800" stroke-width="1.2" fill="none"/>
<path d="M259.6 344.8L263.6 344.8" stroke="#e8a800" stroke-width="1.2" fill="none"/>
<polyline points="43.7,275.07 65.49,310.57 87.28,326.42 109.07,334.14 130.86,340.03 152.65,343.12 174.44,344.38 196.23,344.8 218.02,344.8 239.81,344.8 261.6,344.8" stroke="#f73a44" stroke-width="1.2" stroke-dasharray="2.6 2.0" fill="none"/>
<circle cx="43.7" cy="275.07" r="1.85" fill="none" stroke="#f73a44" stroke-width="0.95"/>
<circle cx="65.49" cy="310.57" r="1.85" fill="none" stroke="#f73a44" stroke-width="0.95"/>
<circle cx="87.28" cy="326.42" r="1.85" fill="none" stroke="#f73a44" stroke-width="0.95"/>
<circle cx="109.07" cy="334.14" r="1.85" fill="none" stroke="#f73a44" stroke-width="0.95"/>
<circle cx="130.86" cy="340.03" r="1.85" fill="none" stroke="#f73a44" stroke-width="0.95"/>
<circle cx="152.65" cy="343.12" r="1.85" fill="none" stroke="#f73a44" stroke-width="0.95"/>
<circle cx="174.44" cy="344.38" r="1.85" fill="none" stroke="#f73a44" stroke-width="0.95"/>
<circle cx="196.23" cy="344.8" r="1.85" fill="none" stroke="#f73a44" stroke-width="0.95"/>
<circle cx="218.02" cy="344.8" r="1.85" fill="none" stroke="#f73a44" stroke-width="0.95"/>
<circle cx="239.81" cy="344.8" r="1.85" fill="none" stroke="#f73a44" stroke-width="0.95"/>
<circle cx="261.6" cy="344.8" r="1.85" fill="none" stroke="#f73a44" stroke-width="0.95"/>
<rect x="207.5" y="206.3" width="51.8" height="68.3" fill="#fff" stroke="#9aa386" stroke-width="1.1"/>
<path d="M212.3 212.6H235.8" stroke="#a98ad9" stroke-width="1.5" fill="none"/>
<rect x="221.79" y="210.66" width="4.41" height="3.89" rx="0.5" fill="#c4aaea" stroke="#8150c6" stroke-width="0.9"/>
<text x="238.4" y="216.22" textLength="16.59" lengthAdjust="spacingAndGlyphs" class="lg" style="font-size:8.03px">ACO</text>
<path d="M212.3 224H235.8" stroke="#3d4d92" stroke-width="1.1" stroke-dasharray="2.7 2.1" fill="none"/>
<path d="M224 222L226.21 224L224 226L221.79 224Z" fill="#8a96c4" stroke="#3d4d92" stroke-width="0.9"/>
<text x="238.4" y="227.62" textLength="16.17" lengthAdjust="spacingAndGlyphs" class="lg" style="font-size:8.03px">ANN</text>
<path d="M212.3 235.4H235.8" stroke="#4f9ae0" stroke-width="1.2" fill="none"/>
<path d="M224 233.3L226.1 237.08L221.9 237.08Z" fill="#b8d6f2" stroke="#4f9ae0" stroke-width="0.9"/>
<text x="238.4" y="239.02" textLength="15.33" lengthAdjust="spacingAndGlyphs" class="lg" style="font-size:8.03px">PSO</text>
<path d="M212.3 246.8H235.8" stroke="#45c27a" stroke-width="1.2" stroke-dasharray="2.2 2.4" fill="none"/>
<path d="M222.32 245.12L225.68 248.48M222.32 248.48L225.68 245.12" stroke="#20b058" stroke-width="0.9" fill="none"/>
<text x="238.4" y="250.42" textLength="11.23" lengthAdjust="spacingAndGlyphs" class="lg" style="font-size:8.03px">GA</text>
<path d="M212.3 258.2H235.8" stroke="#fdcc4c" stroke-width="1.35" fill="none"/>
<path d="M221.9 258.2L226.1 258.2" stroke="#e8a800" stroke-width="1.2" fill="none"/>
<text x="238.4" y="261.82" textLength="9.45" lengthAdjust="spacingAndGlyphs" class="lg" style="font-size:8.03px">DL</text>
<path d="M212.3 269.6H235.8" stroke="#f73a44" stroke-width="1.2" stroke-dasharray="2.6 2.0" fill="none"/>
<circle cx="224" cy="269.6" r="1.94" fill="none" stroke="#f73a44" stroke-width="0.95"/>
<text x="238.4" y="273.22" textLength="15.02" lengthAdjust="spacingAndGlyphs" class="lg" style="font-size:8.03px">APS</text>
<path d="M327.6 320.82H539.6" stroke="#bcbcbc" stroke-width="1.3"/>
<path d="M327.6 307.14H539.6" stroke="#bcbcbc" stroke-width="1.3"/>
<path d="M327.6 293.46H539.6" stroke="#bcbcbc" stroke-width="1.3"/>
<path d="M327.6 279.78H539.6" stroke="#bcbcbc" stroke-width="1.3"/>
<path d="M327.6 266.1H539.6" stroke="#bcbcbc" stroke-width="1.3"/>
<path d="M327.6 252.42H539.6" stroke="#bcbcbc" stroke-width="1.3"/>
<path d="M327.6 238.74H539.6" stroke="#bcbcbc" stroke-width="1.3"/>
<path d="M327.6 225.06H539.6" stroke="#bcbcbc" stroke-width="1.3"/>
<path d="M327.6 211.38H539.6" stroke="#bcbcbc" stroke-width="1.3"/>
<path d="M327.6 197.7H539.6" stroke="#bcbcbc" stroke-width="1.3"/>
<path d="M327.6 197.7H539.6V334.5" stroke="#a9b499" stroke-width="1.6" fill="none"/>
<path d="M327.6 197.7V336.9" stroke="#969696" stroke-width="1.3"/>
<path d="M324.8 334.5H539.6" stroke="#969696" stroke-width="1.3"/>
<path d="M324.8 334.5H327.6" stroke="#969696" stroke-width="1"/>
<path d="M324.8 320.82H327.6" stroke="#969696" stroke-width="1"/>
<path d="M324.8 307.14H327.6" stroke="#969696" stroke-width="1"/>
<path d="M324.8 293.46H327.6" stroke="#969696" stroke-width="1"/>
<path d="M324.8 279.78H327.6" stroke="#969696" stroke-width="1"/>
<path d="M324.8 266.1H327.6" stroke="#969696" stroke-width="1"/>
<path d="M324.8 252.42H327.6" stroke="#969696" stroke-width="1"/>
<path d="M324.8 238.74H327.6" stroke="#969696" stroke-width="1"/>
<path d="M324.8 225.06H327.6" stroke="#969696" stroke-width="1"/>
<path d="M324.8 211.38H327.6" stroke="#969696" stroke-width="1"/>
<path d="M324.8 197.7H327.6" stroke="#969696" stroke-width="1"/>
<path d="M327.6 334.5V336.9" stroke="#969696" stroke-width="1"/>
<path d="M370 334.5V336.9" stroke="#969696" stroke-width="1"/>
<path d="M412.4 334.5V336.9" stroke="#969696" stroke-width="1"/>
<path d="M454.8 334.5V336.9" stroke="#969696" stroke-width="1"/>
<path d="M497.2 334.5V336.9" stroke="#969696" stroke-width="1"/>
<path d="M539.6 334.5V336.9" stroke="#969696" stroke-width="1"/>
<text x="317.2" y="337.4" text-anchor="end" class="t">0.00</text>
<text x="317.2" y="323.72" text-anchor="end" class="t">0.10</text>
<text x="317.2" y="310.04" text-anchor="end" class="t">0.20</text>
<text x="317.2" y="296.36" text-anchor="end" class="t">0.30</text>
<text x="317.2" y="282.68" text-anchor="end" class="t">0.40</text>
<text x="317.2" y="269" text-anchor="end" class="t">0.50</text>
<text x="317.2" y="255.32" text-anchor="end" class="t">0.60</text>
<text x="317.2" y="241.64" text-anchor="end" class="t">0.70</text>
<text x="317.2" y="227.96" text-anchor="end" class="t">0.80</text>
<text x="317.2" y="214.28" text-anchor="end" class="t">0.90</text>
<text x="317.2" y="200.6" text-anchor="end" class="t">1.00</text>
<text x="326.4" y="348.4" text-anchor="middle" class="t">0</text>
<text x="368.8" y="348.4" text-anchor="middle" class="t">20</text>
<text x="411.2" y="348.4" text-anchor="middle" class="t">40</text>
<text x="453.6" y="348.4" text-anchor="middle" class="t">60</text>
<text x="496" y="348.4" text-anchor="middle" class="t">80</text>
<text x="538.4" y="348.4" text-anchor="middle" class="t">100</text>
<text x="431.6" y="363.2" text-anchor="middle" textLength="35.4" lengthAdjust="spacingAndGlyphs" class="it">Iterations</text>
<text transform="translate(293.1 265.7) rotate(-90)" x="0" y="0" text-anchor="middle" textLength="49.3" lengthAdjust="spacingAndGlyphs" class="yl">Average Error</text>
<text x="416.2" y="379" text-anchor="middle" class="cap">(d)</text>
<polyline points="327.6,232.86 348.8,289.77 370,302.49 391.2,316.03 412.4,319.59 433.6,327.66 454.8,329.71 476,331.08 497.2,334.5 518.4,334.5 539.6,334.5" stroke="#a98ad9" stroke-width="1.5" fill="none"/>
<rect x="325.5" y="231.01" width="4.2" height="3.7" rx="0.5" fill="#c4aaea" stroke="#8150c6" stroke-width="0.9"/>
<rect x="346.7" y="287.92" width="4.2" height="3.7" rx="0.5" fill="#c4aaea" stroke="#8150c6" stroke-width="0.9"/>
<rect x="367.9" y="300.64" width="4.2" height="3.7" rx="0.5" fill="#c4aaea" stroke="#8150c6" stroke-width="0.9"/>
<rect x="389.1" y="314.18" width="4.2" height="3.7" rx="0.5" fill="#c4aaea" stroke="#8150c6" stroke-width="0.9"/>
<rect x="410.3" y="317.74" width="4.2" height="3.7" rx="0.5" fill="#c4aaea" stroke="#8150c6" stroke-width="0.9"/>
<rect x="431.5" y="325.81" width="4.2" height="3.7" rx="0.5" fill="#c4aaea" stroke="#8150c6" stroke-width="0.9"/>
<rect x="452.7" y="327.86" width="4.2" height="3.7" rx="0.5" fill="#c4aaea" stroke="#8150c6" stroke-width="0.9"/>
<rect x="473.9" y="329.23" width="4.2" height="3.7" rx="0.5" fill="#c4aaea" stroke="#8150c6" stroke-width="0.9"/>
<rect x="495.1" y="332.65" width="4.2" height="3.7" rx="0.5" fill="#c4aaea" stroke="#8150c6" stroke-width="0.9"/>
<rect x="516.3" y="332.65" width="4.2" height="3.7" rx="0.5" fill="#c4aaea" stroke="#8150c6" stroke-width="0.9"/>
<rect x="537.5" y="332.65" width="4.2" height="3.7" rx="0.5" fill="#c4aaea" stroke="#8150c6" stroke-width="0.9"/>
<polyline points="327.6,237.1 348.8,286.76 370,306.87 391.2,309.33 412.4,318.77 433.6,324.51 454.8,329.03 476,330.81 497.2,334.5 518.4,334.5 539.6,334.5" stroke="#3d4d92" stroke-width="1.1" stroke-dasharray="2.7 2.1" fill="none"/>
<path d="M327.6 235.2L329.7 237.1L327.6 239L325.5 237.1Z" fill="#8a96c4" stroke="#3d4d92" stroke-width="0.9"/>
<path d="M348.8 284.86L350.9 286.76L348.8 288.66L346.7 286.76Z" fill="#8a96c4" stroke="#3d4d92" stroke-width="0.9"/>
<path d="M370 304.97L372.1 306.87L370 308.77L367.9 306.87Z" fill="#8a96c4" stroke="#3d4d92" stroke-width="0.9"/>
<path d="M391.2 307.43L393.3 309.33L391.2 311.23L389.1 309.33Z" fill="#8a96c4" stroke="#3d4d92" stroke-width="0.9"/>
<path d="M412.4 316.87L414.5 318.77L412.4 320.67L410.3 318.77Z" fill="#8a96c4" stroke="#3d4d92" stroke-width="0.9"/>
<path d="M433.6 322.61L435.7 324.51L433.6 326.41L431.5 324.51Z" fill="#8a96c4" stroke="#3d4d92" stroke-width="0.9"/>
<path d="M454.8 327.13L456.9 329.03L454.8 330.93L452.7 329.03Z" fill="#8a96c4" stroke="#3d4d92" stroke-width="0.9"/>
<path d="M476 328.91L478.1 330.81L476 332.71L473.9 330.81Z" fill="#8a96c4" stroke="#3d4d92" stroke-width="0.9"/>
<path d="M497.2 332.6L499.3 334.5L497.2 336.4L495.1 334.5Z" fill="#8a96c4" stroke="#3d4d92" stroke-width="0.9"/>
<path d="M518.4 332.6L520.5 334.5L518.4 336.4L516.3 334.5Z" fill="#8a96c4" stroke="#3d4d92" stroke-width="0.9"/>
<path d="M539.6 332.6L541.7 334.5L539.6 336.4L537.5 334.5Z" fill="#8a96c4" stroke="#3d4d92" stroke-width="0.9"/>
<polyline points="327.6,253.65 348.8,281.56 370,298.11 391.2,311.24 412.4,322.87 433.6,327.66 454.8,329.71 476,331.76 497.2,334.5 518.4,334.5 539.6,334.5" stroke="#4f9ae0" stroke-width="1.2" fill="none"/>
<path d="M327.6 251.65L329.6 255.25L325.6 255.25Z" fill="#b8d6f2" stroke="#4f9ae0" stroke-width="0.9"/>
<path d="M348.8 279.56L350.8 283.16L346.8 283.16Z" fill="#b8d6f2" stroke="#4f9ae0" stroke-width="0.9"/>
<path d="M370 296.11L372 299.71L368 299.71Z" fill="#b8d6f2" stroke="#4f9ae0" stroke-width="0.9"/>
<path d="M391.2 309.24L393.2 312.84L389.2 312.84Z" fill="#b8d6f2" stroke="#4f9ae0" stroke-width="0.9"/>
<path d="M412.4 320.87L414.4 324.47L410.4 324.47Z" fill="#b8d6f2" stroke="#4f9ae0" stroke-width="0.9"/>
<path d="M433.6 325.66L435.6 329.26L431.6 329.26Z" fill="#b8d6f2" stroke="#4f9ae0" stroke-width="0.9"/>
<path d="M454.8 327.71L456.8 331.31L452.8 331.31Z" fill="#b8d6f2" stroke="#4f9ae0" stroke-width="0.9"/>
<path d="M476 329.76L478 333.36L474 333.36Z" fill="#b8d6f2" stroke="#4f9ae0" stroke-width="0.9"/>
<path d="M497.2 332.5L499.2 336.1L495.2 336.1Z" fill="#b8d6f2" stroke="#4f9ae0" stroke-width="0.9"/>
<path d="M518.4 332.5L520.4 336.1L516.4 336.1Z" fill="#b8d6f2" stroke="#4f9ae0" stroke-width="0.9"/>
<path d="M539.6 332.5L541.6 336.1L537.6 336.1Z" fill="#b8d6f2" stroke="#4f9ae0" stroke-width="0.9"/>
<polyline points="327.6,225.33 348.8,272.94 370,293.46 391.2,304.95 412.4,316.72 433.6,324.24 454.8,329.03 476,330.81 497.2,334.5 518.4,334.5 539.6,334.5" stroke="#45c27a" stroke-width="1.2" stroke-dasharray="2.2 2.4" fill="none"/>
<path d="M326 223.73L329.2 226.93M326 226.93L329.2 223.73" stroke="#20b058" stroke-width="0.9" fill="none"/>
<path d="M347.2 271.34L350.4 274.54M347.2 274.54L350.4 271.34" stroke="#20b058" stroke-width="0.9" fill="none"/>
<path d="M368.4 291.86L371.6 295.06M368.4 295.06L371.6 291.86" stroke="#20b058" stroke-width="0.9" fill="none"/>
<path d="M389.6 303.35L392.8 306.55M389.6 306.55L392.8 303.35" stroke="#20b058" stroke-width="0.9" fill="none"/>
<path d="M410.8 315.12L414 318.32M410.8 318.32L414 315.12" stroke="#20b058" stroke-width="0.9" fill="none"/>
<path d="M432 322.64L435.2 325.84M432 325.84L435.2 322.64" stroke="#20b058" stroke-width="0.9" fill="none"/>
<path d="M453.2 327.43L456.4 330.63M453.2 330.63L456.4 327.43" stroke="#20b058" stroke-width="0.9" fill="none"/>
<path d="M474.4 329.21L477.6 332.41M474.4 332.41L477.6 329.21" stroke="#20b058" stroke-width="0.9" fill="none"/>
<path d="M495.6 332.9L498.8 336.1M495.6 336.1L498.8 332.9" stroke="#20b058" stroke-width="0.9" fill="none"/>
<path d="M516.8 332.9L520 336.1M516.8 336.1L520 332.9" stroke="#20b058" stroke-width="0.9" fill="none"/>
<path d="M538 332.9L541.2 336.1M538 336.1L541.2 332.9" stroke="#20b058" stroke-width="0.9" fill="none"/>
<polyline points="327.6,239.29 348.8,278.28 370,291.96 391.2,313.16 412.4,316.44 433.6,326.98 454.8,329.44 476,331.08 497.2,334.5 518.4,334.5 539.6,334.5" stroke="#fdcc4c" stroke-width="1.35" fill="none"/>
<path d="M325.6 239.29L329.6 239.29" stroke="#e8a800" stroke-width="1.2" fill="none"/>
<path d="M346.8 278.28L350.8 278.28" stroke="#e8a800" stroke-width="1.2" fill="none"/>
<path d="M368 291.96L372 291.96" stroke="#e8a800" stroke-width="1.2" fill="none"/>
<path d="M389.2 313.16L393.2 313.16" stroke="#e8a800" stroke-width="1.2" fill="none"/>
<path d="M410.4 316.44L414.4 316.44" stroke="#e8a800" stroke-width="1.2" fill="none"/>
<path d="M431.6 326.98L435.6 326.98" stroke="#e8a800" stroke-width="1.2" fill="none"/>
<path d="M452.8 329.44L456.8 329.44" stroke="#e8a800" stroke-width="1.2" fill="none"/>
<path d="M474 331.08L478 331.08" stroke="#e8a800" stroke-width="1.2" fill="none"/>
<path d="M495.2 334.5L499.2 334.5" stroke="#e8a800" stroke-width="1.2" fill="none"/>
<path d="M516.4 334.5L520.4 334.5" stroke="#e8a800" stroke-width="1.2" fill="none"/>
<path d="M537.6 334.5L541.6 334.5" stroke="#e8a800" stroke-width="1.2" fill="none"/>
<polyline points="327.6,261.86 348.8,299.62 370,315.07 391.2,319.04 412.4,326.98 433.6,330.26 454.8,332.17 476,333.82 497.2,334.5 518.4,334.5 539.6,334.5" stroke="#f73a44" stroke-width="1.2" stroke-dasharray="2.6 2.0" fill="none"/>
<circle cx="327.6" cy="261.86" r="1.85" fill="none" stroke="#f73a44" stroke-width="0.95"/>
<circle cx="348.8" cy="299.62" r="1.85" fill="none" stroke="#f73a44" stroke-width="0.95"/>
<circle cx="370" cy="315.07" r="1.85" fill="none" stroke="#f73a44" stroke-width="0.95"/>
<circle cx="391.2" cy="319.04" r="1.85" fill="none" stroke="#f73a44" stroke-width="0.95"/>
<circle cx="412.4" cy="326.98" r="1.85" fill="none" stroke="#f73a44" stroke-width="0.95"/>
<circle cx="433.6" cy="330.26" r="1.85" fill="none" stroke="#f73a44" stroke-width="0.95"/>
<circle cx="454.8" cy="332.17" r="1.85" fill="none" stroke="#f73a44" stroke-width="0.95"/>
<circle cx="476" cy="333.82" r="1.85" fill="none" stroke="#f73a44" stroke-width="0.95"/>
<circle cx="497.2" cy="334.5" r="1.85" fill="none" stroke="#f73a44" stroke-width="0.95"/>
<circle cx="518.4" cy="334.5" r="1.85" fill="none" stroke="#f73a44" stroke-width="0.95"/>
<circle cx="539.6" cy="334.5" r="1.85" fill="none" stroke="#f73a44" stroke-width="0.95"/>
<rect x="486.6" y="197.9" width="51.1" height="68.4" fill="#fff" stroke="#9aa386" stroke-width="1.1"/>
<path d="M491.4 205.6H514" stroke="#a98ad9" stroke-width="1.5" fill="none"/>
<rect x="500.6" y="203.75" width="4.2" height="3.7" rx="0.5" fill="#c4aaea" stroke="#8150c6" stroke-width="0.9"/>
<text x="516.2" y="209.05" textLength="15.8" lengthAdjust="spacingAndGlyphs" class="lg">ACO</text>
<path d="M491.4 216.65H514" stroke="#3d4d92" stroke-width="1.1" stroke-dasharray="2.7 2.1" fill="none"/>
<path d="M502.7 214.75L504.8 216.65L502.7 218.55L500.6 216.65Z" fill="#8a96c4" stroke="#3d4d92" stroke-width="0.9"/>
<text x="516.2" y="220.1" textLength="15.4" lengthAdjust="spacingAndGlyphs" class="lg">ANN</text>
<path d="M491.4 227.7H514" stroke="#4f9ae0" stroke-width="1.2" fill="none"/>
<path d="M502.7 225.7L504.7 229.3L500.7 229.3Z" fill="#b8d6f2" stroke="#4f9ae0" stroke-width="0.9"/>
<text x="516.2" y="231.15" textLength="14.6" lengthAdjust="spacingAndGlyphs" class="lg">PSO</text>
<path d="M491.4 238.75H514" stroke="#45c27a" stroke-width="1.2" stroke-dasharray="2.2 2.4" fill="none"/>
<path d="M501.1 237.15L504.3 240.35M501.1 240.35L504.3 237.15" stroke="#20b058" stroke-width="0.9" fill="none"/>
<text x="516.2" y="242.2" textLength="10.7" lengthAdjust="spacingAndGlyphs" class="lg">GA</text>
<path d="M491.4 249.8H514" stroke="#fdcc4c" stroke-width="1.35" fill="none"/>
<path d="M500.7 249.8L504.7 249.8" stroke="#e8a800" stroke-width="1.2" fill="none"/>
<text x="516.2" y="253.25" textLength="9" lengthAdjust="spacingAndGlyphs" class="lg">DL</text>
<path d="M491.4 260.85H514" stroke="#f73a44" stroke-width="1.2" stroke-dasharray="2.6 2.0" fill="none"/>
<circle cx="502.7" cy="260.85" r="1.85" fill="none" stroke="#f73a44" stroke-width="0.95"/>
<text x="516.2" y="264.3" textLength="14.3" lengthAdjust="spacingAndGlyphs" class="lg">APS</text>
</svg>
</body></html>
